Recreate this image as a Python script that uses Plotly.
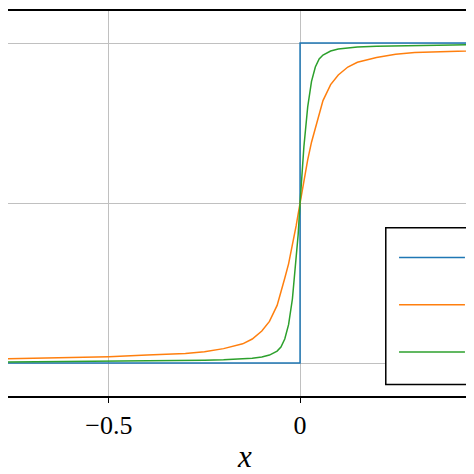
import plotly.graph_objects as go

# step function
step_x = [-0.8, 0, 0, 0.8]
step_y = [-1, -1, 1, 1]

# smooth approximations (odd functions)
half_x = [0.0, 0.005, 0.01, 0.02, 0.03, 0.04, 0.05, 0.06, 0.08, 0.1, 0.125, 0.15, 0.2, 0.25, 0.3, 0.4, 0.5, 0.6, 0.8]
orange_half = [0.0, 0.07, 0.14, 0.27, 0.38, 0.47, 0.56, 0.64, 0.74, 0.8, 0.85, 0.88, 0.91, 0.93, 0.94, 0.95, 0.96, 0.965, 0.975]
green_half = [0.0, 0.2, 0.35, 0.6, 0.76, 0.85, 0.9, 0.925, 0.95, 0.962, 0.97, 0.975, 0.98, 0.983, 0.985, 0.988, 0.99, 0.992, 0.995]

xs = [-v for v in half_x[:0:-1]] + half_x
orange_y = [-v for v in orange_half[:0:-1]] + orange_half
green_y = [-v for v in green_half[:0:-1]] + green_half

BLUE, ORANGE, GREEN = "#1f77b4", "#ff7f0e", "#2ca02c"

fig = go.Figure()
fig.add_trace(go.Scatter(x=step_x, y=step_y, mode="lines", line=dict(color=BLUE, width=1.5)))
fig.add_trace(go.Scatter(x=xs, y=orange_y, mode="lines", line=dict(color=ORANGE, width=1.5)))
fig.add_trace(go.Scatter(x=xs, y=green_y, mode="lines", line=dict(color=GREEN, width=1.5)))

font = dict(family="Liberation Serif", size=26, color="black")
fig.update_layout(
    width=474, height=474,
    margin=dict(l=0, r=0, t=3, b=86, autoexpand=False),
    plot_bgcolor="white", paper_bgcolor="white",
    showlegend=False,
    font=font,
    xaxis=dict(range=[-0.764, 0.476], tickvals=[-0.5, 0, 0.5], ticktext=["\u22120.5", "0", "0.5"],
               showgrid=True, gridcolor="#c0c0c0", gridwidth=1, zeroline=False,
               showline=True, linecolor="black", linewidth=1.5, mirror=True,
               ticks="outside", ticklen=5, tickcolor="black", automargin=False,
               title=dict(text="<i>x</i>", standoff=6)),
    yaxis=dict(range=[-1.206, 1.2], tickvals=[-1, 0, 1], showticklabels=False,
               showgrid=True, gridcolor="#c0c0c0", gridwidth=1, zeroline=False, automargin=False,
               showline=True, linecolor="black", linewidth=1.5, mirror=True),
)

# manual legend (box cut at the right edge like the reference)
fig.add_shape(type="rect", xref="paper", yref="paper", x0=0.797, x1=1.05, y0=0.03, y1=0.437,
              line=dict(color="black", width=1.5), fillcolor="white", layer="above")
labels = ["sign(<i>x</i>)", "<i>K̃</i>", "<i>K̃</i>"]
colors = [BLUE, ORANGE, GREEN]
label_x = [1.02, 0.975, 0.975]
for i, (lab, col) in enumerate(zip(labels, colors)):
    yy = 0.36 - i * 0.123
    fig.add_shape(type="line", xref="paper", yref="paper", x0=0.825, x1=0.964, y0=yy, y1=yy,
                  line=dict(color=col, width=1.5), layer="above")
    fig.add_annotation(xref="paper", yref="paper", x=label_x[i], y=yy, text=lab, showarrow=False,
                       xanchor="left", yanchor="middle", font=font)

fig.write_html("out.html")
